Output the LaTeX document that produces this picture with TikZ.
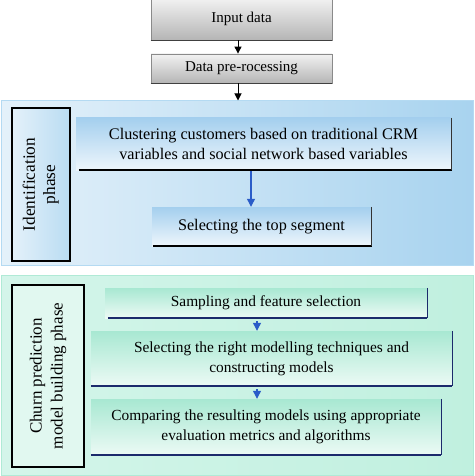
\documentclass[tikz,border=0pt]{standalone}
\usepackage{fontspec}
\setmainfont{Liberation Serif}
\usetikzlibrary{arrows.meta}
\definecolor{grayT}{HTML}{F2F2F2}
\definecolor{grayB}{HTML}{B5B5B5}
\definecolor{grayE}{HTML}{8A8A8A}
\definecolor{bpL}{HTML}{E4F1FA}
\definecolor{bpR}{HTML}{A8D3EF}
\definecolor{bpE}{HTML}{B4DAF2}
\definecolor{bbT}{HTML}{A4CFEE}
\definecolor{bbB}{HTML}{EEF6FC}
\definecolor{gpL}{HTML}{D4F5EA}
\definecolor{gpR}{HTML}{C0F0DF}
\definecolor{gpE}{HTML}{B0EAD6}
\definecolor{gbT}{HTML}{A8E8D2}
\definecolor{gbB}{HTML}{ECFAF5}
\definecolor{navy}{HTML}{1C2A6C}
\definecolor{arrblue}{HTML}{2A5CC8}
\tikzset{
  graybox/.style={draw=grayE, line width=0.8pt, top color=grayT, bottom color=grayB, inner sep=0pt, font=\fontsize{15}{18}\selectfont},
  bluebox/.style={top color=bbT, bottom color=bbB, inner sep=0pt, align=center, font=\fontsize{16.2}{19.5}\selectfont},
  greenbox/.style={top color=gbT, bottom color=gbB, inner sep=0pt, align=center, font=\fontsize{15.4}{20}\selectfont},
  phasebox/.style={draw=black, line width=1.4pt, inner sep=0pt, align=center},
  blkarrow/.style={-{Triangle[length=7pt,width=7pt]}, line width=1pt, black},
  bluearrow/.style={-{Triangle[length=8pt,width=8pt]}, line width=1.2pt, arrblue},
  botline/.style={line width=2.2pt},
  sideline/.style={line width=0.9pt}
}
\begin{document}
\begin{tikzpicture}[x=1pt,y=-1pt]
\useasboundingbox (0,0) rectangle (474,476);
% top flow
\node[graybox, minimum width=181pt, minimum height=42pt] (inp) at (241.5,19) {Input data};
\draw[black!75, line width=1.5pt] (inp.south west) -- (inp.south east);
\node[graybox, minimum width=181pt, minimum height=29pt] (pre) at (241.5,68.5) {Data pre-rocessing};
\draw[black!75, line width=1.5pt] (pre.south west) -- (pre.south east);
% blue panel
\node[draw=bpE, line width=1pt, left color=bpL, right color=bpR, minimum width=472pt, minimum height=164pt, inner sep=0pt] (bpanel) at (237,183) {};
\node[phasebox, font=\fontsize{17.3}{20}\selectfont, left color=bpL, right color=bpR!80!white, minimum width=58pt, minimum height=153pt] (ident) at (41,184.5) {\rotatebox{90}{\begin{tabular}{@{}c@{}}Identification\\phase\end{tabular}}};
\node[bluebox, minimum width=375pt, minimum height=52pt] (clus) at (263.5,144) {Clustering customers based on traditional CRM\\variables and social network based variables};
\draw[botline, black] ([xshift=3pt]clus.south west) -- ([xshift=1pt]clus.south east);
\draw[sideline, black!80] (clus.north east) -- (clus.south east);
\node[bluebox, minimum width=219pt, minimum height=39pt] (seg) at (261.5,226.5) {Selecting the top segment};
\draw[botline, black] ([xshift=1pt]seg.south west) -- ([xshift=1pt]seg.south east);
\draw[sideline, black!80] (seg.north east) -- (seg.south east);
% green panel
\node[draw=gpE, line width=1pt, left color=gpL, right color=gpR, minimum width=472pt, minimum height=200pt, inner sep=0pt] (gpanel) at (237,375) {};
\node[phasebox, font=\fontsize{17}{21}\selectfont, fill=gpL!70!white, minimum width=72pt, minimum height=182pt] (churn) at (48,376) {\rotatebox{90}{\begin{tabular}{@{}c@{}}Churn prediction\\model building phase\end{tabular}}};
\node[greenbox, minimum width=322pt, minimum height=30pt] (samp) at (266,303) {Sampling and feature selection};
\draw[botline, navy] ([xshift=3pt]samp.south west) -- (samp.south east);
\draw[sideline, navy] (samp.north east) -- (samp.south east);
\node[greenbox, minimum width=361pt, minimum height=55pt] (tech) at (271.5,358.5) {Selecting the right modelling techniques and\\constructing models};
\draw[botline, navy] (tech.south west) -- (tech.south east);
\draw[sideline, navy] (tech.north east) -- (tech.south east);
\node[greenbox, minimum width=350pt, minimum height=56pt] (comp) at (266,427) {Comparing the resulting models using appropriate\\evaluation metrics and algorithms};
\draw[botline, navy] (comp.south west) -- (comp.south east);
\draw[sideline, navy] (comp.north east) -- (comp.south east);
% arrows
\draw[blkarrow] (inp.south -| 238,0) -- (pre.north -| 238,0);
\draw[blkarrow] (pre.south -| 238,0) -- (bpanel.north -| 238,0);
\draw[bluearrow] ([yshift=-1pt]clus.south -| 251,0) -- (seg.north -| 251,0);
\draw[bluearrow, shorten <=3pt] (samp.south -| 257,0) -- (tech.north -| 257,0);
\draw[bluearrow, shorten <=3pt] (tech.south -| 257,0) -- (comp.north -| 257,0);
\end{tikzpicture}
\end{document}
